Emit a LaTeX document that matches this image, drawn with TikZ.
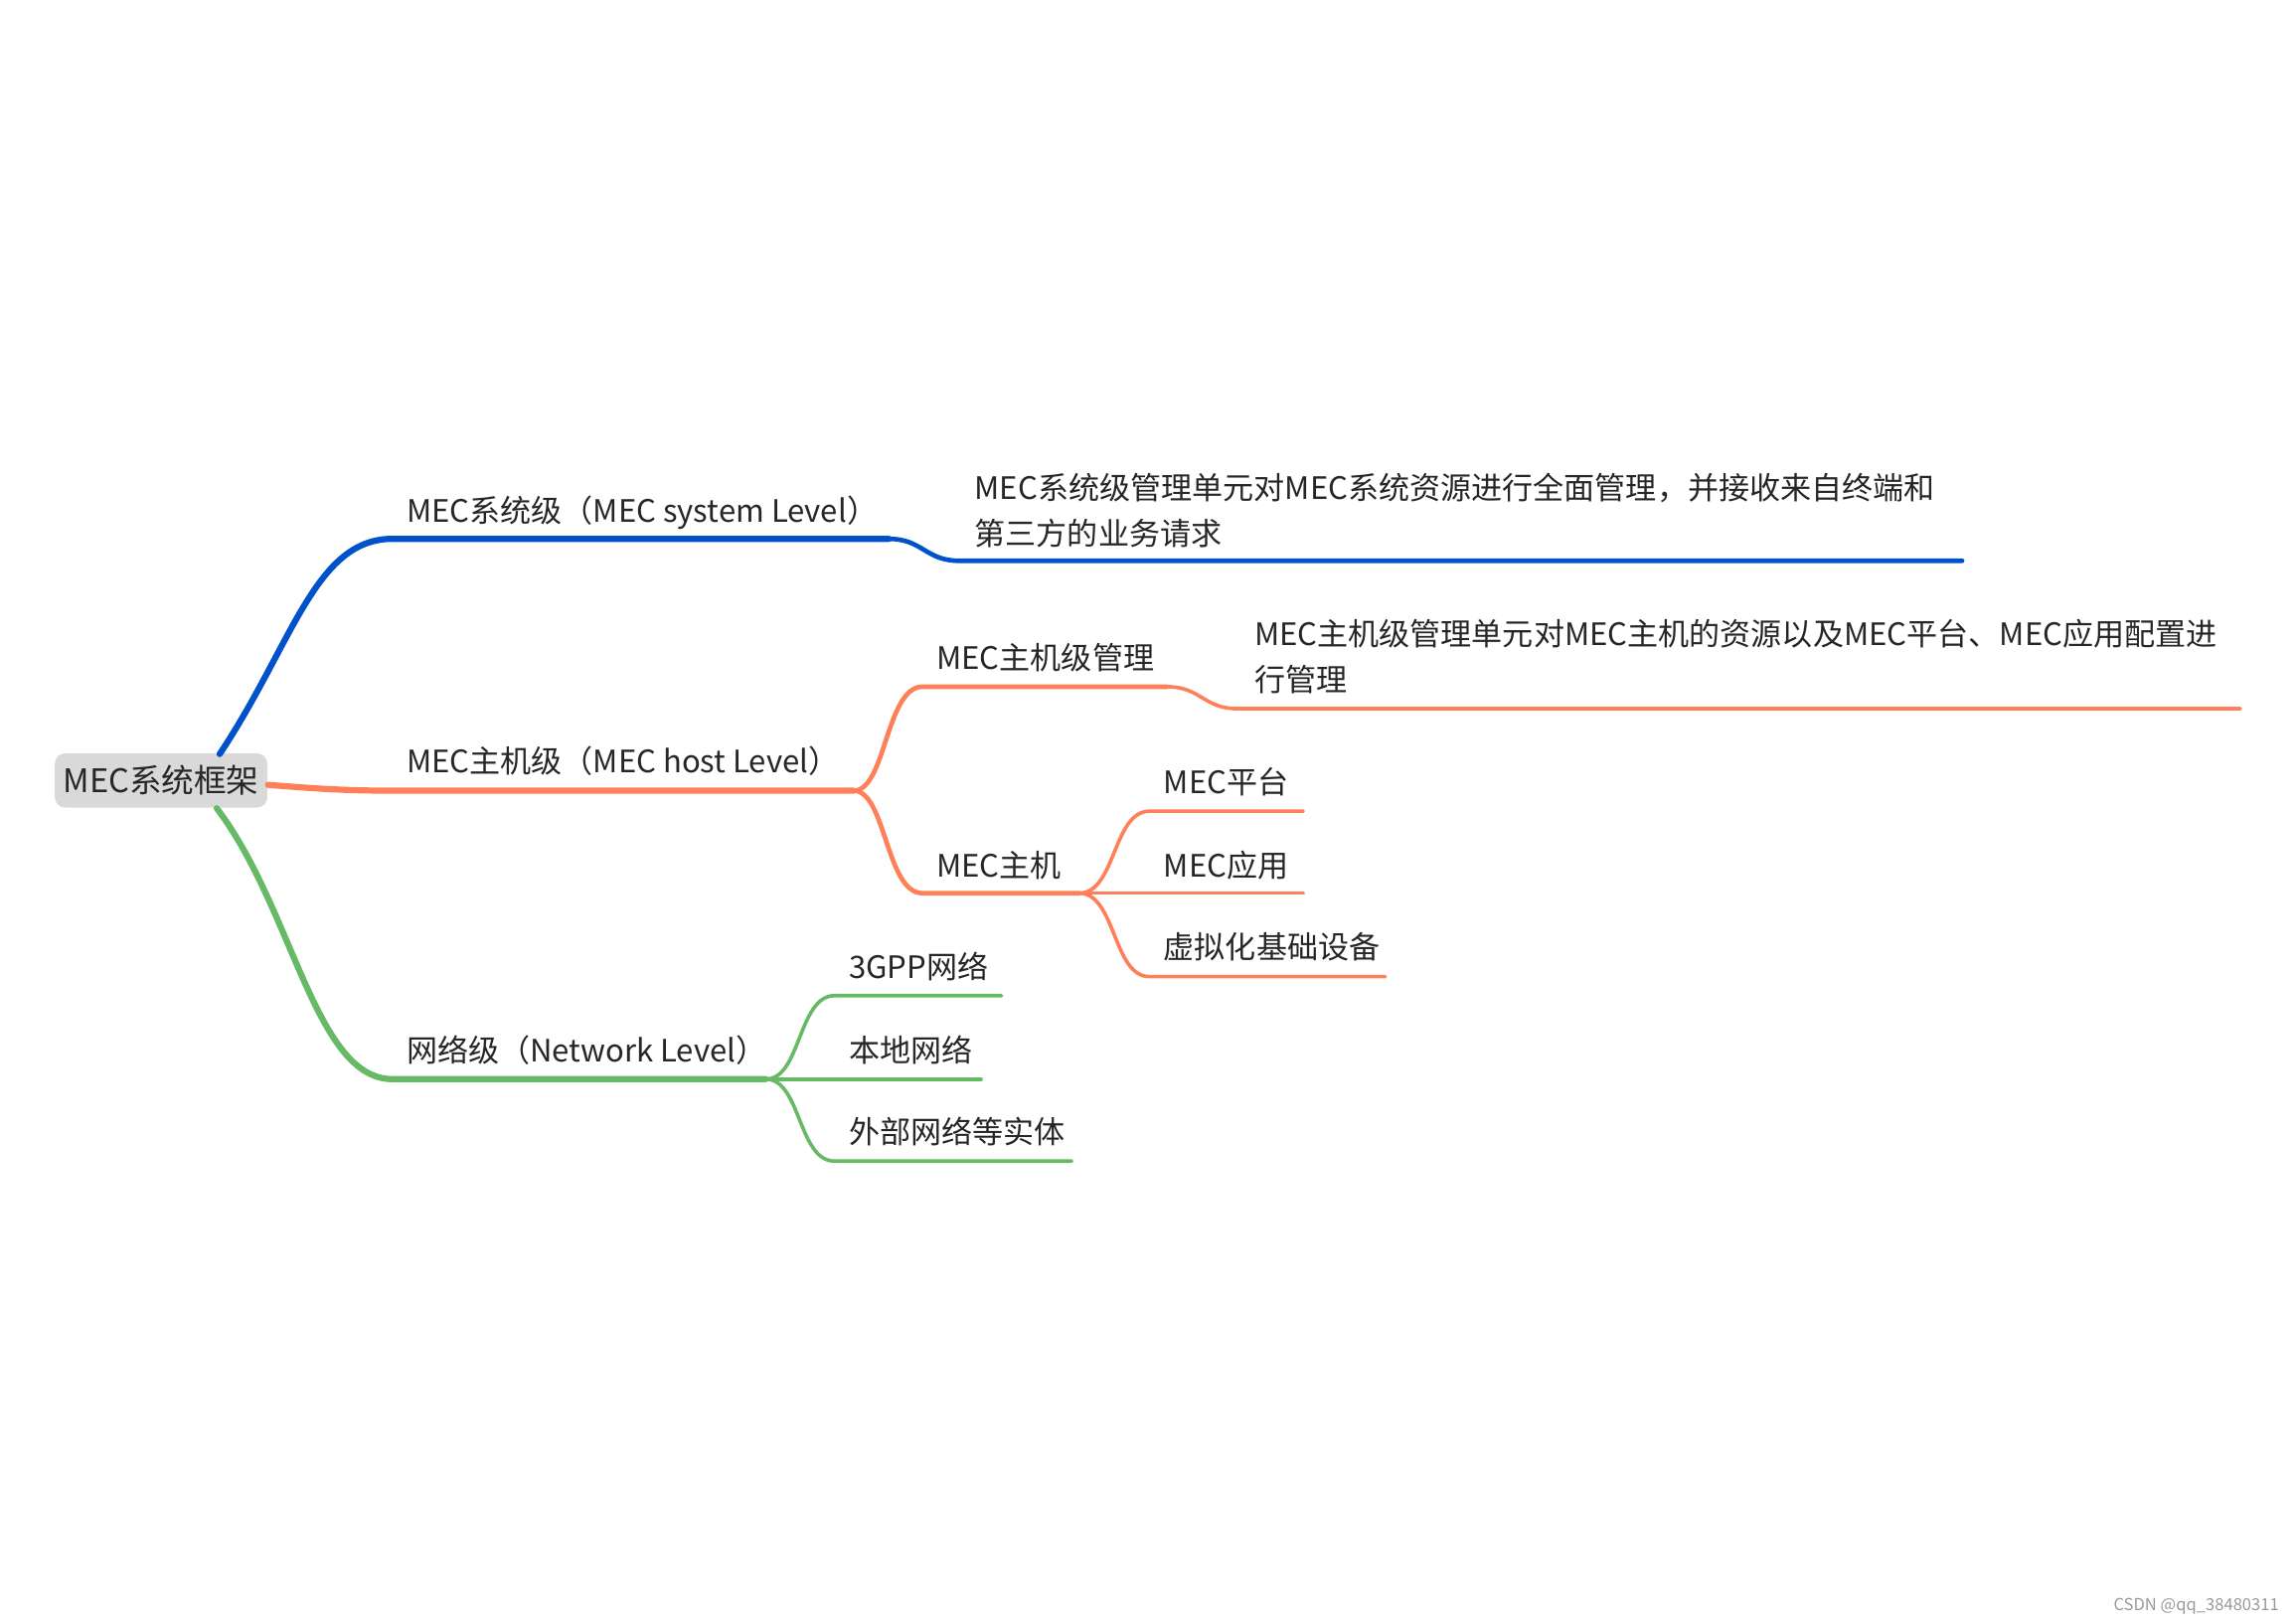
\documentclass[tikz,border=0pt]{standalone}
\usepackage{fontspec}
\setmainfont{Noto Sans CJK SC}
\begin{document}
\begin{tikzpicture}[x=0.01cm,y=-0.01cm,
  lbl/.style={anchor=base west,inner sep=0pt,font=\fontsize{6}{8}\selectfont,text=black!85},
  bl/.style={draw=blue!60!cyan!80!black,line cap=round},
  rd/.style={draw=red!45!orange!75!white,line cap=round},
  gr/.style={draw=green!60!black!70!white,line cap=round},
  w1/.style={line width=1.2pt},w2/.style={line width=0.9pt},w3/.style={line width=0.7pt}]
\useasboundingbox (0,0) rectangle (1568,1108);
\colorlet{B}{blue!60!cyan!80!black}
\node[fill=black!15,rounded corners=2pt,minimum width=1.45cm,minimum height=0.37cm,inner sep=0pt,font=\fontsize{6.3}{8}\selectfont,text=black!85] (root) at (110,533) {MEC系统框架};
% blue
\coordinate (b0) at (150,515); \coordinate (b1) at (268,368); \coordinate (b2) at (607,368);
\coordinate (b3) at (655,383); \coordinate (b4) at (1340,383);
\draw[bl,w1,draw=B] (b0) .. controls (200,440) and (215,368) .. (b1) -- (b2);
\draw[bl,w2,draw=B] (b2) .. controls (630,368) and (632,383) .. (b3) -- (b4);
\node[lbl] (bt) at (277,357) {MEC系统级（MEC system Level）};
\node[lbl] (bd1) at (665,341) {MEC系统级管理单元对MEC系统资源进行全面管理，并接收来自终端和};
\node[lbl] (bd2) at (665,372) {第三方的业务请求};
% red
\colorlet{R}{red!55!orange!65!white}
\coordinate (r0) at (183,536); \coordinate (r1) at (268,540); \coordinate (r2) at (583,540);
\draw[rd,w1,draw=R] (r0) .. controls (220,539) and (240,540) .. (r1) -- (r2);
\node[lbl] at (277,528) {MEC主机级（MEC host Level）};
\coordinate (m1) at (630,469); \coordinate (m2) at (797,469); \coordinate (m3) at (845,484); \coordinate (m4) at (1530,484);
\draw[rd,w2,draw=R] (r2) .. controls (605,540) and (605,469) .. (m1) -- (m2);
\draw[rd,w3,draw=R] (m2) .. controls (820,469) and (822,484) .. (m3) -- (m4);
\node[lbl] at (639,457) {MEC主机级管理};
\node[lbl] at (856,441) {MEC主机级管理单元对MEC主机的资源以及MEC平台、MEC应用配置进};
\node[lbl] at (856,472) {行管理};
\coordinate (h1) at (630,610); \coordinate (h2) at (737,610);
\draw[rd,w2,draw=R] (r2) .. controls (605,540) and (605,610) .. (h1) -- (h2);
\node[lbl] at (639,599) {MEC主机};
\coordinate (p1) at (785,554); \coordinate (p2) at (890,554);
\coordinate (a2) at (890,610);
\coordinate (v1) at (785,667); \coordinate (v2) at (946,667);
\draw[rd,w3,draw=R] (h2) .. controls (762,610) and (760,554) .. (p1) -- (p2);
\draw[rd,w3,draw=R] (h2) -- (a2);
\draw[rd,w3,draw=R] (h2) .. controls (762,610) and (760,667) .. (v1) -- (v2);
\node[lbl] at (794,542) {MEC平台};
\node[lbl] at (794,599) {MEC应用};
\node[lbl] at (794,655) {虚拟化基础设备};
% green
\colorlet{G}{green!55!black!60!white}
\coordinate (g0) at (148,552); \coordinate (g1) at (268,737); \coordinate (g2) at (523,737);
\draw[gr,w1,draw=G] (g0) .. controls (200,620) and (215,737) .. (g1) -- (g2);
\node[lbl] at (277,725) {网络级（Network Level）};
\coordinate (n1) at (570,680); \coordinate (n2) at (684,680);
\coordinate (l2) at (670,737);
\coordinate (e1) at (570,793); \coordinate (e2) at (732,793);
\draw[gr,w3,draw=G] (g2) .. controls (547,737) and (545,680) .. (n1) -- (n2);
\draw[gr,w3,draw=G] (g2) -- (l2);
\draw[gr,w3,draw=G] (g2) .. controls (547,737) and (545,793) .. (e1) -- (e2);
\node[lbl] at (579,668) {3GPP网络};
\node[lbl] at (579,725) {本地网络};
\node[lbl] at (579,781) {外部网络等实体};
\node[anchor=base east,inner sep=0pt,font=\fontsize{3.2}{4}\selectfont,text=black!40] (wm) at (1557,1100) {CSDN @qq\_38480311};
\end{tikzpicture}
\end{document}
